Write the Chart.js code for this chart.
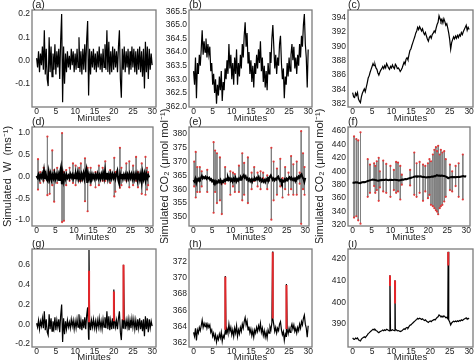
<!DOCTYPE html>
<html>
<head>
<meta charset="utf-8">
<script src="https://cdn.jsdelivr.net/npm/chart.js@4.4.1/dist/chart.umd.min.js"></script>
<style>
  html, body { margin: 0; padding: 0; background: #fff; }
  #wrap { position: relative; width: 474px; height: 361px; overflow: hidden; }
  canvas { position: absolute; }
</style>
</head>
<body>
<div id="wrap"></div>
<script>
'use strict';

/* Data: observed series sampled every 15 s (0.25 min), one row per minute */

var STEP = 0.25;
var minuteTicks = [0, 5, 10, 15, 20, 25, 30];

// (a) vertical wind W
var obsW = [
  0.01, -0.03, 0.04, -0.05,
  0.03, -0.02, 0.06, -0.04,
  0.13, -0.06, 0.05, -0.08,
  -0.11, 0.10, -0.05, 0.06,
  -0.07, 0.03, -0.04, 0.07,
  -0.06, 0.04, -0.03, 0.05,
  -0.08, 0.09, 0.20, -0.18,
  0.06, -0.10, 0.03, -0.05,
  0.04, -0.03, 0.02, -0.04,
  0.05, -0.02, 0.04, -0.05,
  0.03, -0.04, 0.05, -0.03,
  0.10, -0.05, 0.04, -0.06,
  0.05, -0.04, 0.07, -0.05,
  0.09, 0.17, -0.15, 0.05,
  -0.06, 0.04, -0.03, 0.05,
  -0.04, 0.03, -0.05, 0.04,
  -0.03, 0.06, -0.04, 0.03,
  -0.05, 0.05, -0.03, 0.07,
  -0.04, 0.13, -0.05, 0.08,
  -0.06, 0.04, -0.05, 0.06,
  -0.04, 0.05, -0.03, 0.04,
  -0.05, 0.06, 0.13, -0.08,
  -0.16, 0.05, -0.04, 0.06,
  -0.05, 0.04, -0.03, 0.05,
  -0.06, 0.04, -0.04, 0.06,
  -0.03, 0.05, -0.05, 0.04,
  -0.06, 0.05, -0.04, 0.06,
  -0.05, 0.04, -0.07, 0.05,
  -0.12, 0.08, -0.05, 0.06,
  -0.08, 0.05, -0.04, 0.03,
  -0.02
];

// (b) CO2 at ~363 umol/mol
var obsCO2low = [
  363.3, 362.8, 363.8, 362.3,
  363.6, 363.2, 363.9, 363.5,
  364.1, 364.8, 363.9, 364.4,
  364.0, 364.5, 363.8, 364.3,
  363.9, 364.2, 363.3, 363.6,
  362.8, 363.2, 362.5, 363.0,
  362.1, 362.8, 362.4, 363.1,
  362.6, 363.3, 362.2, 362.9,
  362.6, 363.4, 363.0, 363.7,
  363.2, 364.3, 363.4, 363.9,
  363.0, 363.6, 362.8, 363.8,
  363.2, 364.1, 362.8, 363.6,
  363.1, 363.9, 363.4, 364.3,
  363.8, 364.6, 365.1, 364.2,
  364.7, 363.6, 364.0, 363.2,
  363.7, 362.9, 363.5, 362.7,
  363.6, 363.2, 363.9, 363.4,
  364.1, 363.6, 364.4, 363.3,
  363.8, 362.9, 363.5, 362.7,
  363.3, 362.6, 363.6, 363.2,
  364.0, 363.6, 364.5, 365.0,
  364.2, 363.4, 363.9, 363.2,
  363.8, 363.5, 364.3, 364.6,
  363.6, 363.0, 363.4, 362.3,
  363.1, 362.8, 363.6, 363.1,
  363.8, 363.3, 363.9, 364.3,
  363.7, 364.2, 363.4, 363.8,
  363.2, 363.9, 363.5, 364.3,
  363.8, 364.6, 364.2, 365.0,
  365.4, 364.3, 363.8, 362.7,
  364.1
];

// (c) CO2 drifting 383 -> 392 umol/mol
var obsCO2drift = [
  383.6, 383.0, 382.9, 383.5,
  383.2, 383.6, 382.7, 382.4,
  382.2, 383.0, 383.5, 383.8,
  384.1, 383.7, 384.3, 384.9,
  385.6, 385.9, 386.4, 386.8,
  387.2, 387.6, 387.3, 387.5,
  387.0, 386.8, 386.3, 386.0,
  386.4, 386.7, 386.9, 387.2,
  386.9, 387.3, 387.0, 387.6,
  387.3, 387.0, 386.8, 387.2,
  387.0, 387.4, 387.1, 386.9,
  387.5, 387.3, 386.9, 387.0,
  386.8, 386.5, 386.7, 387.0,
  387.4, 387.8, 387.5, 388.2,
  388.4, 388.1, 388.8, 389.4,
  389.6, 390.1, 390.5, 390.9,
  391.3, 391.8, 392.1, 392.6,
  392.3, 392.7, 392.4, 392.1,
  392.4, 391.9, 391.6, 391.9,
  391.4, 391.0, 390.7, 391.2,
  391.4, 391.1, 391.6, 391.8,
  392.1, 391.9, 392.5, 393.0,
  393.3, 394.2, 393.8, 393.4,
  393.7, 393.2, 393.8, 393.4,
  392.9, 393.1, 392.5, 391.8,
  390.9, 389.6, 390.5, 390.9,
  391.3, 391.0, 391.4, 391.1,
  391.5, 391.2, 391.6, 391.4,
  391.9, 391.6, 392.0, 392.3,
  392.6, 392.9, 392.2, 392.6,
  392.3
];

// (d)-(f) simulated noise spikes: [minute, top, bottom]
var spikesW = [
  [0.4, 0.40, -0.30], [1.0, 0.10, -0.15], [1.9, 0.20, -0.10], [2.9, 0.92, -0.43],
  [3.5, 0.10, -0.40], [4.2, 0.60, -0.20], [4.7, 0.15, -0.58], [5.5, 0.20, -0.15],
  [6.5, 0.18, -0.05], [6.8, 1.00, -1.05], [7.3, 0.10, -1.02], [7.9, 0.15, -0.20],
  [8.8, 0.20, -0.10], [9.7, 0.30, -0.15], [10.4, 0.25, -0.20], [11.4, 0.20, -0.10],
  [11.8, 0.30, -0.10], [12.9, 0.42, -0.57], [13.6, 0.20, -0.80], [14.4, 0.20, -0.20],
  [15.7, 0.10, -0.25], [16.6, 0.25, -0.20], [17.6, 0.20, -0.10], [18.3, 0.35, -0.10],
  [19.6, 0.15, -0.15], [20.7, 0.43, -0.46], [21.0, 0.10, -0.35], [22.2, 0.66, -0.26],
  [22.6, 0.20, -0.20], [23.9, 0.30, -0.10], [24.7, 0.35, -0.25], [25.7, 0.25, -0.20],
  [26.5, 0.45, -0.10], [27.0, 0.10, -0.25], [28.0, 0.30, -0.40], [29.0, 0.45, -0.42],
  [29.4, 0.20, -0.30], [29.7, 0.10, -0.20]
];

var spikesCO2low = [
  [0.2, 370, 361], [0.6, 373.5, 357], [1.0, 368, 359], [1.7, 368, 359],
  [2.2, 366.5, 361], [3.7, 367, 359], [5.4, 377, 351.5], [5.8, 374, 359],
  [6.3, 373, 355], [7.1, 371.5, 356], [7.6, 362, 351], [8.5, 368, 362],
  [9.9, 366.5, 358], [10.6, 366, 361], [11.1, 365.5, 359], [12.2, 368.5, 359],
  [13.1, 373, 356], [13.6, 369.5, 358], [14.6, 371.5, 355], [15.6, 366, 360],
  [16.3, 368, 363], [17.2, 366, 361], [18.0, 366.5, 360], [18.7, 366, 364],
  [19.8, 365, 360], [20.9, 375, 349], [21.5, 370, 356], [22.4, 367.5, 358],
  [23.3, 371, 361], [23.9, 364, 357], [24.6, 368, 360], [25.5, 366, 358],
  [26.2, 372, 360], [26.8, 369, 358], [27.7, 370, 358], [28.5, 366, 362],
  [28.9, 381, 347.5], [29.4, 373, 360], [29.8, 368, 358]
];

var spikesCO2drift = [
  [0.4, 452, 331], [1.0, 448, 333], [1.5, 446, 327], [2.1, 458, 322],
  [4.0, 418, 362], [4.6, 410, 368], [5.7, 412, 378], [6.0, 408, 368],
  [6.4, 415, 372], [6.9, 420, 356], [7.2, 400, 376], [8.1, 416, 370],
  [8.9, 411, 368], [10.0, 408, 362], [10.9, 402, 372], [11.5, 414, 368],
  [12.0, 413, 370], [12.6, 408, 358], [13.0, 395, 380], [15.2, 402, 379],
  [16.3, 428, 365], [16.9, 412, 362], [17.7, 414, 368], [18.6, 410, 356],
  [19.2, 408, 370], [19.9, 412, 360], [20.3, 418, 365], [20.7, 415, 350],
  [21.2, 425, 348], [21.6, 432, 345], [22.0, 436, 342], [22.3, 430, 340],
  [22.6, 438, 336], [23.0, 425, 345], [23.3, 432, 348], [23.7, 428, 350],
  [24.2, 430, 355], [24.6, 418, 362], [25.7, 410, 372], [26.3, 400, 370],
  [27.2, 408, 378], [28.0, 412, 362], [29.1, 425, 358]
];

// (g)-(i) single spike events: peak [minute, value], flagged part [minute, top, bottom]
var peaksW = [[13.6, 0.75], [20.05, 0.35], [22.55, 0.60]];
var flaggedW = [[13.62, 0.54, 0.02], [20.07, 0.33, 0.03], [22.57, 0.60, 0.04]];
var peaksCO2low = [[8.3, 370.2], [20.7, 373.2], [24.3, 369.2]];
var flaggedCO2low = [[8.32, 370.1, 363.6], [20.72, 373.1, 365.0], [24.32, 369.1, 363.7]];
var peaksCO2drift = [[9.6, 412.5], [10.9, 410.2], [24.6, 423.3]];
var flaggedCO2drift = [[9.62, 412.4, 407.5], [10.92, 410.1, 399.5], [24.62, 423.2, 417.0]];

/* Layout */

var FONT = "'Liberation Sans', Arial, sans-serif";
var cols = [
  {left: 0, areaLeft: 32, areaRight: 156, titlePad: 1},
  {left: 155, areaLeft: 189, areaRight: 312, titlePad: 3},
  {left: 311, areaLeft: 348, areaRight: 473, titlePad: 2}
];
var rows = [
  {top: 0, areaTop: 10, areaBottom: 107, bottom: 124},
  {top: 108, areaTop: 127, areaBottom: 226, bottom: 243},
  {top: 240, areaTop: 249, areaBottom: 347, bottom: 363}
];

function series(values) {
  return values.map(function(v, i) { return {x: i * STEP, y: v}; });
}

function withPeaks(values, peaks) {
  var pts = series(values);
  peaks.forEach(function(p) { pts.push({x: p[0], y: p[1]}); });
  pts.sort(function(a, b) { return a.x - b.x; });
  return pts;
}

function segments(list) {
  var pts = [];
  list.forEach(function(s) {
    pts.push({x: s[0], y: s[1]}, {x: s[0], y: s[2]}, {x: s[0], y: null});
  });
  return pts;
}

function baseLine(data, width) {
  return {data: data, borderColor: '#000', borderWidth: width, pointRadius: 0, tension: 0};
}

function spikeLines(list) {
  return {
    data: segments(list), borderColor: '#808080', borderWidth: 1, spanGaps: false,
    pointRadius: 1.1, pointBackgroundColor: '#e03a3a', pointBorderWidth: 0, tension: 0
  };
}

function flaggedLines(list) {
  return {
    data: segments(list), borderColor: '#e5262a', borderWidth: 2, spanGaps: false,
    pointRadius: 0, tension: 0
  };
}

var yTitleW = 'Simulated  W  (ms\u207B\u00B9)';
var yTitleCO2 = 'Simulated CO\u2082 (\u03BCmol mol\u207B\u00B9)';

var panels = [
  {label: '(a)', col: 0, row: 0, yMin: -0.2, yMax: 0.217, yTicks: [-0.1, 0, 0.1, 0.2], dec: 1,
   datasets: [baseLine(series(obsW), 1.2)]},
  {label: '(b)', col: 1, row: 0, yMin: 361.98, yMax: 365.55, yTicks: [362, 362.5, 363, 363.5, 364, 364.5, 365, 365.5], dec: 1,
   datasets: [baseLine(series(obsCO2low), 1.2)]},
  {label: '(c)', col: 2, row: 0, yMin: 381.6, yMax: 395, yTicks: [382, 384, 386, 388, 390, 392, 394], dec: 0,
   datasets: [baseLine(series(obsCO2drift), 1.2)]},
  {label: '(d)', col: 0, row: 1, yMin: -1.14, yMax: 1.14, yTicks: [-1, -0.5, 0, 0.5, 1], dec: 1, title: yTitleW,
   datasets: [baseLine(series(obsW), 2), spikeLines(spikesW)]},
  {label: '(e)', col: 1, row: 1, yMin: 346.7, yMax: 382.5, yTicks: [350, 355, 360, 365, 370, 375, 380], dec: 0, title: yTitleCO2,
   datasets: [baseLine(series(obsCO2low), 2), spikeLines(spikesCO2low)]},
  {label: '(f)', col: 2, row: 1, yMin: 318.5, yMax: 466, yTicks: [320, 340, 360, 380, 400, 420, 440, 460], dec: 0, title: yTitleCO2,
   datasets: [baseLine(series(obsCO2drift), 2), spikeLines(spikesCO2drift)]},
  {label: '(g)', col: 0, row: 2, yMin: -0.23, yMax: 0.76, yTicks: [-0.2, 0, 0.2, 0.4, 0.6], dec: 1,
   datasets: [flaggedLines(flaggedW), baseLine(withPeaks(obsW, peaksW), 1.2)]},
  {label: '(h)', col: 1, row: 2, yMin: 361.5, yMax: 373.5, yTicks: [362, 364, 366, 368, 370, 372], dec: 0,
   datasets: [flaggedLines(flaggedCO2low), baseLine(withPeaks(obsCO2low, peaksCO2low), 1.2)]},
  {label: '(i)', col: 2, row: 2, yMin: 379.4, yMax: 424.6, yTicks: [390, 400, 410, 420], dec: 0,
   datasets: [flaggedLines(flaggedCO2drift), baseLine(withPeaks(obsCO2drift, peaksCO2drift), 1.2)]}
];

function makePanel(p) {
  var col = cols[p.col];
  var row = rows[p.row];
  var canvas = document.createElement('canvas');
  var w = col.areaRight - col.left + 1;
  var h = row.bottom - row.top;
  canvas.width = w;
  canvas.height = h;
  canvas.style.left = col.left + 'px';
  canvas.style.top = row.top + 'px';
  canvas.style.width = w + 'px';
  canvas.style.height = h + 'px';
  document.getElementById('wrap').appendChild(canvas);

  var framePlugin = {
    id: 'frame',
    afterDatasetsDraw: function(chart) {
      var a = chart.chartArea;
      var ctx = chart.ctx;
      ctx.save();
      ctx.strokeStyle = '#7c7c7c';
      ctx.lineWidth = 1.3;
      ctx.strokeRect(a.left, a.top, a.right - a.left, a.bottom - a.top);
      ctx.fillStyle = '#222';
      ctx.font = '10.5px ' + FONT;
      ctx.textAlign = 'left';
      ctx.textBaseline = 'bottom';
      ctx.fillText(p.label, a.left, a.top);
      ctx.restore();
    }
  };

  new Chart(canvas.getContext('2d'), {
    type: 'line',
    data: {datasets: p.datasets},
    options: {
      responsive: false,
      animation: false,
      devicePixelRatio: 1,
      layout: {padding: {left: 0, top: row.areaTop - row.top, right: 1, bottom: 0}},
      plugins: {legend: {display: false}, tooltip: {enabled: false}},
      scales: {
        x: {
          type: 'linear', min: -1.2, max: 31,
          grid: {display: false, drawTicks: false},
          border: {display: false},
          ticks: {color: '#222', font: {family: FONT, size: 8.5}, padding: 0, maxRotation: 0, autoSkip: false},
          title: {display: true, text: 'Minutes', color: '#222', font: {family: FONT, size: 9.5}, padding: 0},
          afterBuildTicks: function(scale) {
            scale.ticks = minuteTicks.map(function(v) { return {value: v}; });
          },
          afterFit: function(scale) { scale.height = row.bottom - row.areaBottom; }
        },
        y: {
          type: 'linear', min: p.yMin, max: p.yMax,
          grid: {display: false, drawTicks: false},
          border: {display: false},
          ticks: {
            color: '#222', font: {family: FONT, size: 8.5}, padding: 2, autoSkip: false,
            callback: function(v) { return v.toFixed(p.dec); }
          },
          title: {
            display: !!p.title, text: p.title || '', color: '#222',
            font: {family: FONT, size: 11}, padding: {top: col.titlePad, bottom: 0}
          },
          afterBuildTicks: function(scale) {
            scale.ticks = p.yTicks.map(function(v) { return {value: v}; });
          },
          afterFit: function(scale) { scale.width = col.areaLeft - col.left; }
        }
      }
    },
    plugins: [framePlugin]
  });
}

panels.forEach(makePanel);
</script>
</body>
</html>
